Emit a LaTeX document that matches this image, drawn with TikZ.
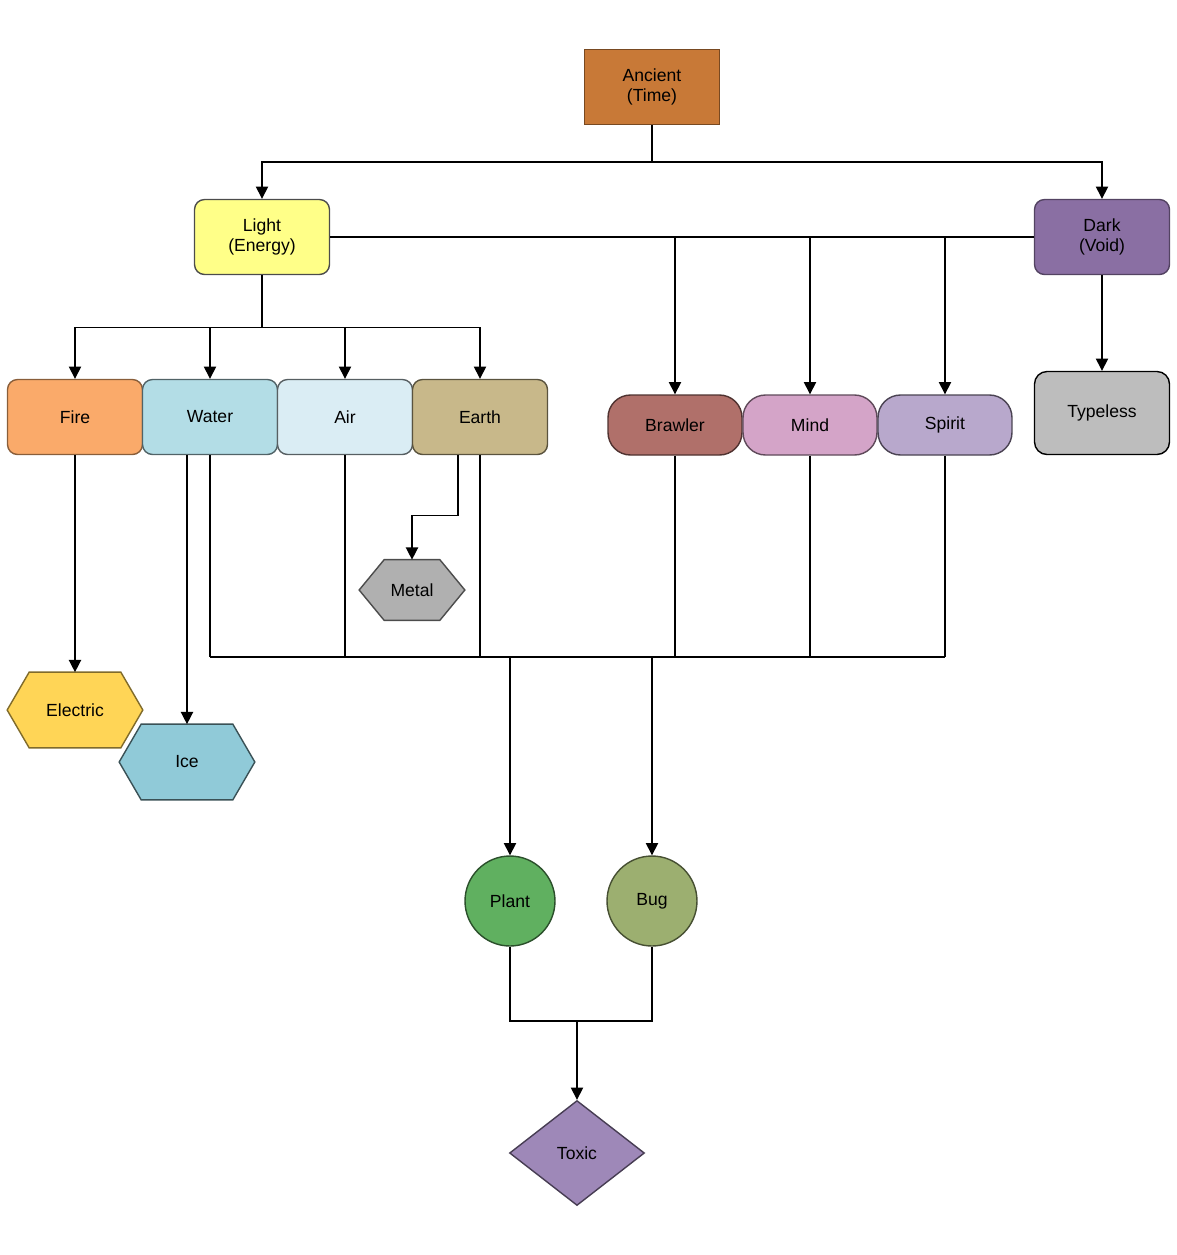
\documentclass[tikz,border=0pt]{standalone}
\usepackage{fontspec}
\setmainfont{Liberation Sans}
\usetikzlibrary{shapes.geometric,arrows.meta,calc,backgrounds}
\definecolor{ancientc}{HTML}{C87937}
\definecolor{lightc}{HTML}{FFFF88}
\definecolor{darkc}{HTML}{8A6FA3}
\definecolor{firec}{HTML}{FAAA6A}
\definecolor{waterc}{HTML}{B3DDE6}
\definecolor{airc}{HTML}{DAEDF4}
\definecolor{earthc}{HTML}{C8B88A}
\definecolor{brawlerc}{HTML}{B0706A}
\definecolor{mindc}{HTML}{D4A4C8}
\definecolor{spiritc}{HTML}{B8A8CC}
\definecolor{typelessc}{HTML}{BDBDBD}
\definecolor{metalc}{HTML}{B0B0B0}
\definecolor{electricc}{HTML}{FFD556}
\definecolor{icec}{HTML}{90CAD8}
\definecolor{plantc}{HTML}{60B060}
\definecolor{bugc}{HTML}{9CAF70}
\definecolor{toxicc}{HTML}{9E88B8}
\begin{document}
\begin{tikzpicture}[x=0.02cm, y=-0.02cm,
    every node/.style={font=\fontsize{10}{11.5}\selectfont, align=center},
    box/.style={draw, line width=0.8pt, minimum width=2.7cm, minimum height=1.5cm},
    pill/.style={draw, line width=0.8pt, rounded corners=0.45cm, minimum width=2.68cm, minimum height=1.2cm},
    hexbox/.style={minimum width=#1, minimum height=1.5cm},
    ball/.style={circle, draw, line width=0.8pt, minimum size=1.8cm},
    link/.style={line width=0.8pt},
    arr/.style={link, -{Triangle[width=7pt,length=7pt]}}]
    \useasboundingbox (0,0) rectangle (1177,1255);

    % Top level
    \node[box, fill=ancientc, draw=ancientc!60!black] (ancient) at (652,87) {Ancient\\(Time)};
    \node[box, rounded corners=0.2cm, fill=lightc, draw=black!70] (light) at (262,237) {Light\\(Energy)};
    \node[box, rounded corners=0.2cm, fill=darkc, draw=darkc!60!black] (dark) at (1102,237) {Dark\\(Void)};

    % Elements
    \node[box, rounded corners=0.2cm, fill=firec, draw=firec!55!black] (fire) at (75,417) {Fire};
    \node[box, rounded corners=0.2cm, fill=waterc, draw=waterc!45!black] (water) at (210,417) {Water};
    \node[box, rounded corners=0.2cm, fill=airc, draw=airc!40!black] (air) at (345,417) {Air};
    \node[box, rounded corners=0.2cm, fill=earthc, draw=earthc!45!black] (earth) at (480,417) {Earth};
    \node[pill, fill=brawlerc, draw=brawlerc!45!black] (brawler) at (675,425) {Brawler};
    \node[pill, fill=mindc, draw=mindc!45!black] (mind) at (810,425) {Mind};
    \node[pill, fill=spiritc, draw=spiritc!40!black] (spirit) at (945,425) {Spirit};
    \node[box, rounded corners=0.25cm, minimum height=1.66cm, fill=typelessc, draw=black] (typeless) at (1102,413) {Typeless};

    % Hexagons
    \node[hexbox=2.1cm, minimum height=1.2cm] (metal) at (412,590) {Metal};
    \node[hexbox=2.7cm] (electric) at (75,710) {Electric};
    \node[hexbox=2.7cm] (ice) at (187,762) {Ice};
    \begin{scope}[on background layer]
        \draw[link, fill=metalc, draw=black!70] (metal.west) -- ($(metal.north west)+(25,0)$) -- ($(metal.north east)+(-25,0)$) -- (metal.east) -- ($(metal.south east)+(-25,0)$) -- ($(metal.south west)+(25,0)$) -- cycle;
        \draw[link, fill=electricc, draw=electricc!50!black] (electric.west) -- ($(electric.north west)+(22,0)$) -- ($(electric.north east)+(-22,0)$) -- (electric.east) -- ($(electric.south east)+(-22,0)$) -- ($(electric.south west)+(22,0)$) -- cycle;
        \draw[link, fill=icec, draw=icec!40!black] (ice.west) -- ($(ice.north west)+(22,0)$) -- ($(ice.north east)+(-22,0)$) -- (ice.east) -- ($(ice.south east)+(-22,0)$) -- ($(ice.south west)+(22,0)$) -- cycle;
    \end{scope}

    % Bottom
    \node[ball, fill=plantc, draw=plantc!45!black] (plant) at (510,901) {Plant};
    \node[ball, fill=bugc, draw=bugc!45!black] (bug) at (652,901) {Bug};
    \node[diamond, draw, line width=0.8pt, minimum width=2.7cm, minimum height=2.1cm, inner sep=0pt, fill=toxicc, draw=toxicc!45!black] (toxic) at (577,1153) {Toxic};

    % Connectors
    \draw[arr] (ancient.south) -- ++(0,37) -| (light.north);
    \draw[arr] (ancient.south) -- ++(0,37) -| (dark.north);
    \draw[link] (light.south) -- ++(0,52) coordinate (lsplit);
    \foreach \n in {fire,water,air,earth}
        \draw[arr] (lsplit) -| (\n.north);
    \draw[link] (light.east) -- (dark.west);
    \foreach \n in {brawler,mind,spirit}
        \draw[arr] (light.east -| \n.north) -- (\n.north);
    \draw[arr] (dark.south) -- (typeless.north);
    \draw[arr] (fire.south) -- (electric.north);
    \draw[arr] (water.south -| ice.north) -- (ice.north);
    \draw[arr] ($(earth.south)+(-22,0)$) -- ++(0,60) -| (metal.north);

    % Merge into Plant and Bug
    \coordinate (merge) at (0,657);
    \foreach \n in {water,air,earth,brawler,mind,spirit}
        \draw[link] (\n.south) -- (\n.south |- merge);
    \draw[link] (water.south |- merge) -- (spirit.south |- merge);
    \draw[arr] (merge -| plant.north) -- (plant.north);
    \draw[arr] (merge -| bug.north) -- (bug.north);

    % Toxic
    \coordinate (tjoin) at (577,1021);
    \draw[link] (plant.south) |- (tjoin) -| (bug.south);
    \draw[arr] (tjoin) -- (toxic.north);
\end{tikzpicture}
\end{document}
